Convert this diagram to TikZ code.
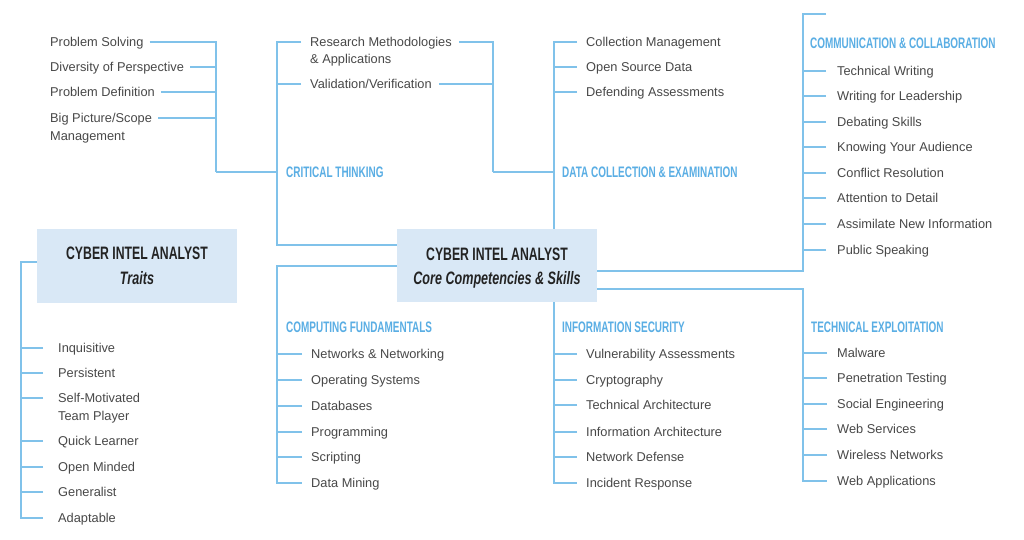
\documentclass[tikz,border=0pt]{standalone}
\usepackage{graphicx}
\usepackage{fontspec}
\setmainfont{Liberation Sans}
\definecolor{linec}{RGB}{128,194,234}
\definecolor{headc}{RGB}{90,174,228}
\definecolor{boxc}{RGB}{217,232,246}
\definecolor{textc}{RGB}{72,72,72}
\definecolor{titlec}{RGB}{35,35,35}
\newcommand{\hdtxt}[1]{\scalebox{0.655}[1]{#1}}
\begin{document}
\begin{tikzpicture}[x=1pt,y=-1pt,
  ln/.style={draw=linec,line width=1.4pt},
  item/.style={anchor=west,inner sep=0pt,text height=9.2pt,text depth=0pt,text=textc,font=\fontsize{12.8pt}{15pt}\selectfont},
  head/.style={anchor=west,inner sep=0pt,text height=10.9pt,text depth=0pt,text=headc,font=\bfseries\fontsize{15.2pt}{18pt}\selectfont},
  bx/.style={fill=boxc,inner sep=0pt,minimum width=200pt,minimum height=73pt},
  btitle/.style={anchor=base,inner sep=0pt,text=titlec,font=\bfseries\fontsize{18pt}{21pt}\selectfont},
  bsub/.style={anchor=base,inner sep=0pt,text=titlec,font=\bfseries\itshape\fontsize{18pt}{21pt}\selectfont}]
\fill[white] (0,0) rectangle (1024,539);
\useasboundingbox (0,0) rectangle (1024,539);

% boxes
\node[bx] (cbox) at (497,265.5) {};
\node[btitle] (ctitle) at (497,260.5) {\scalebox{0.68}[1]{CYBER INTEL ANALYST}};
\node[bsub] (csub) at (497,284.5) {\scalebox{0.70}[1]{Core Competencies \& Skills}};
\node[bx,minimum height=74pt] (tbox) at (137,266) {};
\node[btitle] (ttitle) at (137,259.5) {\scalebox{0.68}[1]{CYBER INTEL ANALYST}};
\node[bsub] (tsub) at (137,284.5) {\scalebox{0.70}[1]{Traits}};

% headers
\node[head] (ct) at (286,172) {\hdtxt{CRITICAL THINKING}};
\node[head] (dc) at (562,172) {\hdtxt{DATA COLLECTION \& EXAMINATION}};
\node[head] (cc) at (810,43) {\hdtxt{COMMUNICATION \& COLLABORATION}};
\node[head] (cf) at (286,327) {\hdtxt{COMPUTING FUNDAMENTALS}};
\node[head] (is) at (562,327) {\hdtxt{INFORMATION SECURITY}};
\node[head] (te) at (811,327) {\hdtxt{TECHNICAL EXPLOITATION}};

% critical thinking, left column
\node[item] (ps) at (50,42) {Problem Solving};
\node[item] (dp) at (50,67) {Diversity of Perspective};
\node[item] (pd) at (50,92) {Problem Definition};
\node[item] (bp) at (50,118) {Big Picture/Scope};
\node[item] (bp2) at (50,136) {Management};
% critical thinking, right column
\node[item] (rm) at (310,42) {Research Methodologies};
\node[item] (rm2) at (310,59) {\& Applications};
\node[item] (vv) at (310,84) {Validation/Verification};
% data collection
\node[item] (cm) at (586,42) {Collection Management};
\node[item] (os) at (586,67) {Open Source Data};
\node[item] (da) at (586,92) {Defending Assessments};
% communication
\node[item] (tw) at (837,71) {Technical Writing};
\node[item] (wl) at (837,96) {Writing for Leadership};
\node[item] (ds) at (837,122) {Debating Skills};
\node[item] (ky) at (837,147) {Knowing Your Audience};
\node[item] (cr) at (837,173) {Conflict Resolution};
\node[item] (atd) at (837,198) {Attention to Detail};
\node[item] (ani) at (837,224) {Assimilate New Information};
\node[item] (psp) at (837,250) {Public Speaking};
% computing fundamentals
\node[item] (nn) at (311,354) {Networks \& Networking};
\node[item] (osy) at (311,380) {Operating Systems};
\node[item] (db) at (311,406) {Databases};
\node[item] (pg) at (311,432) {Programming};
\node[item] (sc) at (311,457) {Scripting};
\node[item] (dm) at (311,483) {Data Mining};
% information security
\node[item] (va) at (586,354) {Vulnerability Assessments};
\node[item] (cry) at (586,380) {Cryptography};
\node[item] (ta) at (586,405) {Technical Architecture};
\node[item] (ia) at (586,432) {Information Architecture};
\node[item] (nd) at (586,457) {Network Defense};
\node[item] (ir) at (586,483) {Incident Response};
% technical exploitation
\node[item] (mw) at (837,353) {Malware};
\node[item] (pt) at (837,378) {Penetration Testing};
\node[item] (se) at (837,404) {Social Engineering};
\node[item] (ws) at (837,429) {Web Services};
\node[item] (wn) at (837,455) {Wireless Networks};
\node[item] (wap) at (837,481) {Web Applications};
% traits
\node[item] (inq) at (58,348) {Inquisitive};
\node[item] (per) at (58,373) {Persistent};
\node[item] (smo) at (58,398) {Self-Motivated};
\node[item] (smo2) at (58,416) {Team Player};
\node[item] (ql) at (58,441) {Quick Learner};
\node[item] (om) at (58,467) {Open Minded};
\node[item] (gen) at (58,492) {Generalist};
\node[item] (ada) at (58,518) {Adaptable};

% bus coordinates
\coordinate (ctL) at (216,172);
\coordinate (ctX) at (277,0);
\coordinate (dcL) at (493,172);
\coordinate (dcX) at (554,0);
\coordinate (ccX) at (803,0);
\coordinate (ccTop) at (826,14);
\coordinate (trX) at (21,0);

% critical thinking connectors
\draw[ln] ([xshift=6pt]ps.east) -| (ctL);
\foreach \n in {dp,pd,bp} \draw[ln] ([xshift=6pt]\n.east) -- (\n.east -| ctL);
\draw[ln] (ctL) -- (ct.west -| ctX);
\draw[ln] ([xshift=-9pt]rm.west) -- (rm.west -| ctX) |- ([yshift=20.5pt]cbox.west);
\draw[ln] ([xshift=-9pt]vv.west) -- (vv.west -| ctX);

% data collection connectors
\draw[ln] ([xshift=7pt]rm.east) -| (dcL);
\draw[ln] ([xshift=7pt]vv.east) -- (vv.east -| dcL);
\draw[ln] (dcL) -- (dc.west -| dcX);
\draw[ln] ([xshift=-9pt]cm.west) -- (cm.west -| dcX) -- (cbox.north -| dcX);
\foreach \n in {os,da} \draw[ln] ([xshift=-9pt]\n.west) -- (\n.west -| dcX);

% communication connectors
\draw[ln] (ccTop) -- (ccTop -| ccX) |- ([yshift=-5.5pt]cbox.east);
\foreach \n in {tw,wl,ds,ky,cr,atd,ani,psp} \draw[ln] ([xshift=-11pt]\n.west) -- (\n.west -| ccX);

% technical exploitation connectors
\draw[ln] ([yshift=-23.5pt]cbox.east) -| (wap.west -| ccX) -- ([xshift=-10pt]wap.west);
\foreach \n in {mw,pt,se,ws,wn} \draw[ln] ([xshift=-10pt]\n.west) -- (\n.west -| ccX);

% computing fundamentals connectors
\draw[ln] ([yshift=-0.5pt]cbox.west) -| (dm.west -| ctX) -- ([xshift=-9pt]dm.west);
\foreach \n in {nn,osy,db,pg,sc} \draw[ln] ([xshift=-9pt]\n.west) -- (\n.west -| ctX);

% information security connectors
\draw[ln] (cbox.south -| dcX) -- (ir.west -| dcX) -- ([xshift=-9pt]ir.west);
\foreach \n in {va,cry,ta,ia,nd} \draw[ln] ([xshift=-9pt]\n.west) -- (\n.west -| dcX);

% traits connectors
\draw[ln] ([yshift=4pt]tbox.west) -| (ada.west -| trX) -- ([xshift=-15pt]ada.west);
\foreach \n in {inq,per,smo,ql,om,gen} \draw[ln] ([xshift=-15pt]\n.west) -- (\n.west -| trX);
\end{tikzpicture}
\end{document}
